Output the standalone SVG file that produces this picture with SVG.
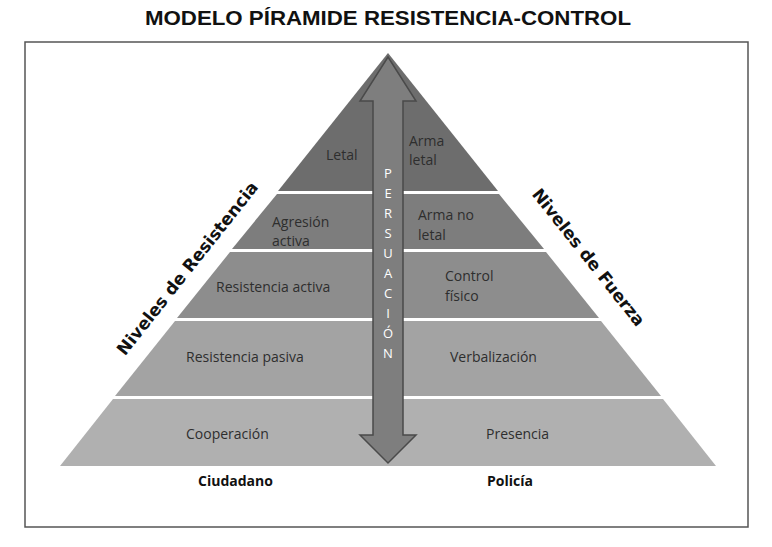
<svg xmlns="http://www.w3.org/2000/svg" width="772" height="547" viewBox="0 0 772 547">
<style>
.t{font-family:"Open Sans","DejaVu Sans",sans-serif;font-size:14px;fill:#2e2e2e}
.b{font-family:"Open Sans","DejaVu Sans",sans-serif;font-size:14px;font-weight:bold;fill:#111}
.s{font-family:"DejaVu Sans",sans-serif;font-size:17px;font-weight:bold;fill:#111}
.p{font-family:"Open Sans","DejaVu Sans",sans-serif;font-size:13px;fill:#fff;text-anchor:middle}
</style>
<rect width="772" height="547" fill="#fff"/>
<text x="388" y="25" text-anchor="middle" font-family="Liberation Sans,Arial,sans-serif" font-weight="bold" font-size="20" textLength="486" lengthAdjust="spacingAndGlyphs" fill="#111">MODELO PÍRAMIDE RESISTENCIA-CONTROL</text>
<rect x="25" y="42" width="723" height="485" fill="none" stroke="#555" stroke-width="1.5"/>
<g id="band1"><polygon points="388,53 498,191 278,191" fill="#6d6d6d"/><text class="t" x="326" y="160">Letal</text><text class="t" x="409" y="146">Arma</text><text class="t" x="409" y="165">letal</text></g>
<g id="band2"><polygon points="277,194 499,194 544,249 232,249" fill="#7d7d7d"/><text class="t" x="272" y="227">Agresión</text><text class="t" x="272" y="246">activa</text><text class="t" x="418" y="220">Arma no</text><text class="t" x="418" y="240">letal</text></g>
<g id="band3"><polygon points="230,252 546,252 599,318 177,318" fill="#8d8d8d"/><text class="t" x="216" y="292">Resistencia activa</text><text class="t" x="445" y="281">Control</text><text class="t" x="445" y="301">físico</text></g>
<g id="band4"><polygon points="175,321 601,321 661,396 115,396" fill="#a3a3a3"/><text class="t" x="186" y="362">Resistencia pasiva</text><text class="t" x="450" y="362">Verbalización</text></g>
<g id="band5"><polygon points="113,399 663,399 716,466 60,466" fill="#b0b0b0"/><text class="t" x="186" y="439">Cooperación</text><text class="t" x="486" y="439">Presencia</text></g>
<g id="connectors"><polygon points="388,57 416,101 403,101 403,435 416,435 388,463 360,435 373,435 373,101 360,101" fill="#7e7e7e" stroke="#4a4a4a" stroke-width="1.5"/></g>
<g id="persuasion"><text class="p" x="388" y="178">P</text><text class="p" x="388" y="198">E</text><text class="p" x="388" y="218">R</text><text class="p" x="388" y="238">S</text><text class="p" x="388" y="258">U</text><text class="p" x="388" y="278">A</text><text class="p" x="388" y="298">C</text><text class="p" x="388" y="318">I</text><text class="p" x="388" y="338">Ó</text><text class="p" x="388" y="358">N</text></g>
<g id="sides"><text class="s" transform="translate(192,272) rotate(-51.6)" text-anchor="middle">Niveles de Resistencia</text><text class="s" transform="translate(584,261) rotate(51.6)" text-anchor="middle">Niveles de Fuerza</text></g>
<g id="labels"><text class="b" x="198" y="486">Ciudadano</text><text class="b" x="487" y="486">Policía</text></g>
</svg>
